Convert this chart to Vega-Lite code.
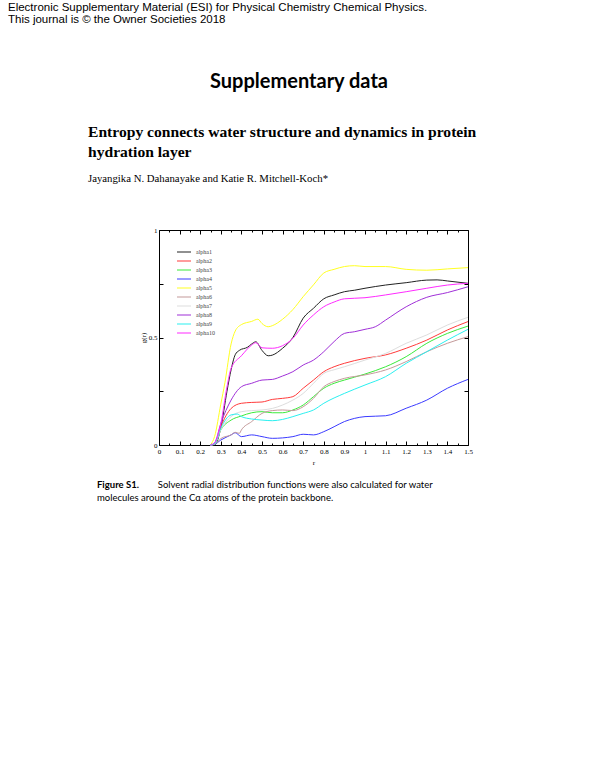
{
  "$schema": "https://vega.github.io/schema/vega-lite/v6.json",
  "background": "white",
  "padding": {"left": 8, "top": 1, "right": 0, "bottom": 0},
  "bounds": "flush",
  "spacing": 0,
  "datasets": {
    "rdf": [
      {"r": 0.25, "g": 0, "s": "alpha1"}, {"r": 0.27, "g": 0, "s": "alpha1"}, {"r": 0.3, "g": 0.08, "s": "alpha1"}, {"r": 0.33, "g": 0.25, "s": "alpha1"}, {"r": 0.35, "g": 0.35, "s": "alpha1"}, {"r": 0.37, "g": 0.42, "s": "alpha1"}, {"r": 0.39, "g": 0.44, "s": "alpha1"}, {"r": 0.43, "g": 0.455, "s": "alpha1"}, {"r": 0.45, "g": 0.47, "s": "alpha1"}, {"r": 0.47, "g": 0.48, "s": "alpha1"}, {"r": 0.5, "g": 0.44, "s": "alpha1"}, {"r": 0.53, "g": 0.415, "s": "alpha1"}, {"r": 0.55, "g": 0.418, "s": "alpha1"}, {"r": 0.6, "g": 0.45, "s": "alpha1"}, {"r": 0.65, "g": 0.5, "s": "alpha1"}, {"r": 0.7, "g": 0.59, "s": "alpha1"}, {"r": 0.75, "g": 0.636, "s": "alpha1"}, {"r": 0.8, "g": 0.68, "s": "alpha1"}, {"r": 0.85, "g": 0.698, "s": "alpha1"}, {"r": 0.9, "g": 0.713, "s": "alpha1"}, {"r": 0.95, "g": 0.72, "s": "alpha1"}, {"r": 1.0, "g": 0.729, "s": "alpha1"}, {"r": 1.1, "g": 0.744, "s": "alpha1"}, {"r": 1.2, "g": 0.755, "s": "alpha1"}, {"r": 1.3, "g": 0.767, "s": "alpha1"}, {"r": 1.35, "g": 0.768, "s": "alpha1"}, {"r": 1.4, "g": 0.763, "s": "alpha1"}, {"r": 1.5, "g": 0.752, "s": "alpha1"},
      {"r": 0.25, "g": 0, "s": "alpha2"}, {"r": 0.27, "g": 0.005, "s": "alpha2"}, {"r": 0.3, "g": 0.085, "s": "alpha2"}, {"r": 0.35, "g": 0.17, "s": "alpha2"}, {"r": 0.4, "g": 0.194, "s": "alpha2"}, {"r": 0.45, "g": 0.198, "s": "alpha2"}, {"r": 0.5, "g": 0.2, "s": "alpha2"}, {"r": 0.55, "g": 0.212, "s": "alpha2"}, {"r": 0.6, "g": 0.217, "s": "alpha2"}, {"r": 0.65, "g": 0.225, "s": "alpha2"}, {"r": 0.7, "g": 0.264, "s": "alpha2"}, {"r": 0.75, "g": 0.302, "s": "alpha2"}, {"r": 0.8, "g": 0.341, "s": "alpha2"}, {"r": 0.85, "g": 0.364, "s": "alpha2"}, {"r": 0.9, "g": 0.38, "s": "alpha2"}, {"r": 1.0, "g": 0.403, "s": "alpha2"}, {"r": 1.1, "g": 0.419, "s": "alpha2"}, {"r": 1.2, "g": 0.45, "s": "alpha2"}, {"r": 1.3, "g": 0.488, "s": "alpha2"}, {"r": 1.4, "g": 0.535, "s": "alpha2"}, {"r": 1.5, "g": 0.574, "s": "alpha2"},
      {"r": 0.25, "g": 0, "s": "alpha3"}, {"r": 0.27, "g": 0.005, "s": "alpha3"}, {"r": 0.3, "g": 0.07, "s": "alpha3"}, {"r": 0.35, "g": 0.116, "s": "alpha3"}, {"r": 0.4, "g": 0.135, "s": "alpha3"}, {"r": 0.45, "g": 0.15, "s": "alpha3"}, {"r": 0.5, "g": 0.155, "s": "alpha3"}, {"r": 0.55, "g": 0.15, "s": "alpha3"}, {"r": 0.6, "g": 0.15, "s": "alpha3"}, {"r": 0.65, "g": 0.163, "s": "alpha3"}, {"r": 0.7, "g": 0.186, "s": "alpha3"}, {"r": 0.75, "g": 0.225, "s": "alpha3"}, {"r": 0.8, "g": 0.264, "s": "alpha3"}, {"r": 0.85, "g": 0.287, "s": "alpha3"}, {"r": 0.9, "g": 0.302, "s": "alpha3"}, {"r": 1.0, "g": 0.33, "s": "alpha3"}, {"r": 1.1, "g": 0.364, "s": "alpha3"}, {"r": 1.2, "g": 0.411, "s": "alpha3"}, {"r": 1.3, "g": 0.473, "s": "alpha3"}, {"r": 1.4, "g": 0.519, "s": "alpha3"}, {"r": 1.5, "g": 0.553, "s": "alpha3"},
      {"r": 0.25, "g": 0, "s": "alpha4"}, {"r": 0.27, "g": 0.003, "s": "alpha4"}, {"r": 0.3, "g": 0.023, "s": "alpha4"}, {"r": 0.35, "g": 0.047, "s": "alpha4"}, {"r": 0.37, "g": 0.057, "s": "alpha4"}, {"r": 0.4, "g": 0.039, "s": "alpha4"}, {"r": 0.45, "g": 0.047, "s": "alpha4"}, {"r": 0.5, "g": 0.039, "s": "alpha4"}, {"r": 0.55, "g": 0.031, "s": "alpha4"}, {"r": 0.6, "g": 0.033, "s": "alpha4"}, {"r": 0.65, "g": 0.039, "s": "alpha4"}, {"r": 0.7, "g": 0.05, "s": "alpha4"}, {"r": 0.75, "g": 0.047, "s": "alpha4"}, {"r": 0.8, "g": 0.062, "s": "alpha4"}, {"r": 0.85, "g": 0.085, "s": "alpha4"}, {"r": 0.9, "g": 0.109, "s": "alpha4"}, {"r": 0.95, "g": 0.124, "s": "alpha4"}, {"r": 1.0, "g": 0.132, "s": "alpha4"}, {"r": 1.1, "g": 0.136, "s": "alpha4"}, {"r": 1.2, "g": 0.171, "s": "alpha4"}, {"r": 1.3, "g": 0.209, "s": "alpha4"}, {"r": 1.4, "g": 0.264, "s": "alpha4"}, {"r": 1.5, "g": 0.305, "s": "alpha4"},
      {"r": 0.25, "g": 0, "s": "alpha5"}, {"r": 0.27, "g": 0.04, "s": "alpha5"}, {"r": 0.3, "g": 0.19, "s": "alpha5"}, {"r": 0.32, "g": 0.29, "s": "alpha5"}, {"r": 0.35, "g": 0.47, "s": "alpha5"}, {"r": 0.37, "g": 0.53, "s": "alpha5"}, {"r": 0.4, "g": 0.56, "s": "alpha5"}, {"r": 0.45, "g": 0.575, "s": "alpha5"}, {"r": 0.48, "g": 0.585, "s": "alpha5"}, {"r": 0.5, "g": 0.565, "s": "alpha5"}, {"r": 0.53, "g": 0.55, "s": "alpha5"}, {"r": 0.55, "g": 0.555, "s": "alpha5"}, {"r": 0.6, "g": 0.585, "s": "alpha5"}, {"r": 0.65, "g": 0.63, "s": "alpha5"}, {"r": 0.7, "g": 0.69, "s": "alpha5"}, {"r": 0.75, "g": 0.745, "s": "alpha5"}, {"r": 0.8, "g": 0.8, "s": "alpha5"}, {"r": 0.85, "g": 0.817, "s": "alpha5"}, {"r": 0.9, "g": 0.83, "s": "alpha5"}, {"r": 0.95, "g": 0.834, "s": "alpha5"}, {"r": 1.0, "g": 0.83, "s": "alpha5"}, {"r": 1.1, "g": 0.83, "s": "alpha5"}, {"r": 1.2, "g": 0.817, "s": "alpha5"}, {"r": 1.3, "g": 0.813, "s": "alpha5"}, {"r": 1.4, "g": 0.819, "s": "alpha5"}, {"r": 1.5, "g": 0.825, "s": "alpha5"},
      {"r": 0.25, "g": 0, "s": "alpha6"}, {"r": 0.27, "g": 0.003, "s": "alpha6"}, {"r": 0.3, "g": 0.03, "s": "alpha6"}, {"r": 0.35, "g": 0.047, "s": "alpha6"}, {"r": 0.37, "g": 0.059, "s": "alpha6"}, {"r": 0.39, "g": 0.054, "s": "alpha6"}, {"r": 0.4, "g": 0.07, "s": "alpha6"}, {"r": 0.45, "g": 0.109, "s": "alpha6"}, {"r": 0.5, "g": 0.147, "s": "alpha6"}, {"r": 0.55, "g": 0.16, "s": "alpha6"}, {"r": 0.6, "g": 0.163, "s": "alpha6"}, {"r": 0.65, "g": 0.16, "s": "alpha6"}, {"r": 0.7, "g": 0.178, "s": "alpha6"}, {"r": 0.75, "g": 0.217, "s": "alpha6"}, {"r": 0.8, "g": 0.271, "s": "alpha6"}, {"r": 0.85, "g": 0.295, "s": "alpha6"}, {"r": 0.9, "g": 0.31, "s": "alpha6"}, {"r": 1.0, "g": 0.326, "s": "alpha6"}, {"r": 1.1, "g": 0.349, "s": "alpha6"}, {"r": 1.2, "g": 0.388, "s": "alpha6"}, {"r": 1.3, "g": 0.434, "s": "alpha6"}, {"r": 1.4, "g": 0.473, "s": "alpha6"}, {"r": 1.5, "g": 0.504, "s": "alpha6"},
      {"r": 0.25, "g": 0, "s": "alpha7"}, {"r": 0.27, "g": 0.005, "s": "alpha7"}, {"r": 0.3, "g": 0.07, "s": "alpha7"}, {"r": 0.35, "g": 0.132, "s": "alpha7"}, {"r": 0.4, "g": 0.155, "s": "alpha7"}, {"r": 0.45, "g": 0.16, "s": "alpha7"}, {"r": 0.5, "g": 0.163, "s": "alpha7"}, {"r": 0.55, "g": 0.17, "s": "alpha7"}, {"r": 0.6, "g": 0.186, "s": "alpha7"}, {"r": 0.65, "g": 0.209, "s": "alpha7"}, {"r": 0.7, "g": 0.24, "s": "alpha7"}, {"r": 0.75, "g": 0.287, "s": "alpha7"}, {"r": 0.8, "g": 0.333, "s": "alpha7"}, {"r": 0.85, "g": 0.35, "s": "alpha7"}, {"r": 0.9, "g": 0.364, "s": "alpha7"}, {"r": 1.0, "g": 0.395, "s": "alpha7"}, {"r": 1.1, "g": 0.426, "s": "alpha7"}, {"r": 1.2, "g": 0.473, "s": "alpha7"}, {"r": 1.3, "g": 0.512, "s": "alpha7"}, {"r": 1.4, "g": 0.558, "s": "alpha7"}, {"r": 1.5, "g": 0.594, "s": "alpha7"},
      {"r": 0.25, "g": 0, "s": "alpha8"}, {"r": 0.27, "g": 0.01, "s": "alpha8"}, {"r": 0.3, "g": 0.1, "s": "alpha8"}, {"r": 0.35, "g": 0.209, "s": "alpha8"}, {"r": 0.4, "g": 0.271, "s": "alpha8"}, {"r": 0.45, "g": 0.287, "s": "alpha8"}, {"r": 0.5, "g": 0.302, "s": "alpha8"}, {"r": 0.55, "g": 0.305, "s": "alpha8"}, {"r": 0.6, "g": 0.321, "s": "alpha8"}, {"r": 0.65, "g": 0.341, "s": "alpha8"}, {"r": 0.7, "g": 0.372, "s": "alpha8"}, {"r": 0.75, "g": 0.395, "s": "alpha8"}, {"r": 0.8, "g": 0.434, "s": "alpha8"}, {"r": 0.85, "g": 0.481, "s": "alpha8"}, {"r": 0.9, "g": 0.519, "s": "alpha8"}, {"r": 0.95, "g": 0.527, "s": "alpha8"}, {"r": 1.0, "g": 0.538, "s": "alpha8"}, {"r": 1.05, "g": 0.55, "s": "alpha8"}, {"r": 1.1, "g": 0.581, "s": "alpha8"}, {"r": 1.2, "g": 0.643, "s": "alpha8"}, {"r": 1.3, "g": 0.687, "s": "alpha8"}, {"r": 1.4, "g": 0.709, "s": "alpha8"}, {"r": 1.5, "g": 0.736, "s": "alpha8"},
      {"r": 0.25, "g": 0, "s": "alpha9"}, {"r": 0.27, "g": 0.005, "s": "alpha9"}, {"r": 0.3, "g": 0.078, "s": "alpha9"}, {"r": 0.35, "g": 0.14, "s": "alpha9"}, {"r": 0.38, "g": 0.144, "s": "alpha9"}, {"r": 0.4, "g": 0.132, "s": "alpha9"}, {"r": 0.45, "g": 0.121, "s": "alpha9"}, {"r": 0.5, "g": 0.116, "s": "alpha9"}, {"r": 0.55, "g": 0.113, "s": "alpha9"}, {"r": 0.6, "g": 0.119, "s": "alpha9"}, {"r": 0.65, "g": 0.132, "s": "alpha9"}, {"r": 0.7, "g": 0.147, "s": "alpha9"}, {"r": 0.75, "g": 0.163, "s": "alpha9"}, {"r": 0.8, "g": 0.194, "s": "alpha9"}, {"r": 0.9, "g": 0.24, "s": "alpha9"}, {"r": 1.0, "g": 0.279, "s": "alpha9"}, {"r": 1.1, "g": 0.318, "s": "alpha9"}, {"r": 1.2, "g": 0.38, "s": "alpha9"}, {"r": 1.3, "g": 0.434, "s": "alpha9"}, {"r": 1.4, "g": 0.488, "s": "alpha9"}, {"r": 1.5, "g": 0.538, "s": "alpha9"},
      {"r": 0.25, "g": 0, "s": "alpha10"}, {"r": 0.27, "g": 0.01, "s": "alpha10"}, {"r": 0.3, "g": 0.1, "s": "alpha10"}, {"r": 0.33, "g": 0.27, "s": "alpha10"}, {"r": 0.35, "g": 0.357, "s": "alpha10"}, {"r": 0.4, "g": 0.415, "s": "alpha10"}, {"r": 0.45, "g": 0.465, "s": "alpha10"}, {"r": 0.47, "g": 0.476, "s": "alpha10"}, {"r": 0.5, "g": 0.452, "s": "alpha10"}, {"r": 0.55, "g": 0.45, "s": "alpha10"}, {"r": 0.6, "g": 0.462, "s": "alpha10"}, {"r": 0.65, "g": 0.496, "s": "alpha10"}, {"r": 0.7, "g": 0.558, "s": "alpha10"}, {"r": 0.75, "g": 0.605, "s": "alpha10"}, {"r": 0.8, "g": 0.643, "s": "alpha10"}, {"r": 0.85, "g": 0.665, "s": "alpha10"}, {"r": 0.9, "g": 0.68, "s": "alpha10"}, {"r": 1.0, "g": 0.685, "s": "alpha10"}, {"r": 1.1, "g": 0.698, "s": "alpha10"}, {"r": 1.2, "g": 0.713, "s": "alpha10"}, {"r": 1.3, "g": 0.729, "s": "alpha10"}, {"r": 1.4, "g": 0.744, "s": "alpha10"}, {"r": 1.5, "g": 0.752, "s": "alpha10"}
    ]
  },
  "vconcat": [
    {
      "width": 309,
      "height": 74,
      "data": {"values": []},
      "mark": "point",
      "title": {
        "text": ["Electronic Supplementary Material (ESI) for Physical Chemistry Chemical Physics.", "This journal is © the Owner Societies 2018"],
        "anchor": "start",
        "frame": "group",
        "dx": -151,
        "offset": 0,
        "font": "Liberation Sans",
        "fontSize": 11.5,
        "fontWeight": "normal",
        "lineHeight": 12,
        "baseline": "alphabetic",
        "color": "black"
      }
    },
    {
      "width": 309,
      "height": 88,
      "data": {"values": []},
      "mark": "point",
      "title": {
        "text": "Supplementary data",
        "anchor": "middle",
        "frame": "group",
        "dx": -14.5,
        "offset": 0,
        "font": "Lato",
        "fontSize": 20,
        "fontWeight": "bold",
        "baseline": "alphabetic",
        "color": "black"
      }
    },
    {
      "width": 309,
      "height": 34,
      "data": {"values": []},
      "mark": "point",
      "title": {
        "text": ["Entropy connects water structure and dynamics in protein", "hydration layer"],
        "subtitle": "Jayangika N. Dahanayake and Katie R. Mitchell-Koch*",
        "anchor": "start",
        "frame": "group",
        "dx": -71,
        "offset": 0,
        "font": "Liberation Serif",
        "fontSize": 15.6,
        "fontWeight": "bold",
        "lineHeight": 20,
        "baseline": "alphabetic",
        "color": "black",
        "subtitleFont": "Liberation Serif",
        "subtitleFontSize": 10.75,
        "subtitleColor": "black",
        "subtitlePadding": 10
      }
    },
    {
      "width": 309,
      "height": 215,
      "data": {"name": "rdf"},
      "title": {
        "text": "Figure S1.",
        "subtitle": ["\u200b\u00a0\u00a0\u00a0\u00a0\u00a0\u00a0\u00a0\u00a0\u00a0\u00a0\u00a0\u00a0\u00a0\u00a0\u00a0\u00a0\u00a0\u00a0\u00a0\u00a0\u00a0\u00a0\u00a0\u00a0\u00a0Solvent radial distribution functions were also calculated for water", "molecules around the Cα atoms of the protein backbone."],
        "orient": "bottom",
        "anchor": "start",
        "frame": "group",
        "dx": -62,
        "offset": 23,
        "font": "Lato",
        "fontSize": 9.5,
        "fontWeight": "bold",
        "baseline": "alphabetic",
        "color": "black",
        "subtitleFont": "Lato",
        "subtitleFontSize": 9.5,
        "subtitleColor": "black",
        "subtitleLineHeight": 13.4,
        "subtitlePadding": -9.5
      },
      "layer": [
        {
          "mark": {"type": "line", "strokeWidth": 1, "interpolate": "monotone"},
          "encoding": {
            "x": {
              "field": "r",
              "type": "quantitative",
              "title": "r",
              "scale": {"domain": [0, 1.5], "nice": false},
              "axis": {
                "orient": "bottom",
                "values": [0, 0.05, 0.1, 0.15, 0.2, 0.25, 0.3, 0.35, 0.4, 0.45, 0.5, 0.55, 0.6, 0.65, 0.7, 0.75, 0.8, 0.85, 0.9, 0.95, 1, 1.05, 1.1, 1.15, 1.2, 1.25, 1.3, 1.35, 1.4, 1.45, 1.5],
                "format": "~g",
                "labelExpr": "round(datum.value * 20) % 2 == 0 ? datum.label : ''",
                "labelOverlap": false,
                "labelFlush": false,
                "tickSize": {"condition": {"test": "round(datum.value * 20) % 2 == 1", "value": -2}, "value": -4},
                "labelPadding": 6
              }
            },
            "y": {
              "field": "g",
              "type": "quantitative",
              "title": "g(r)",
              "scale": {"domain": [0, 1], "nice": false},
              "axis": {
                "orient": "left",
                "values": [0, 0.25, 0.5, 0.75, 1],
                "format": "~g",
                "labelExpr": "datum.value == 0.25 || datum.value == 0.75 ? '' : datum.label",
                "labelOverlap": false,
                "labelFlush": false,
                "tickSize": -4,
                "labelPadding": 6
              }
            },
            "color": {
              "field": "s",
              "type": "nominal",
              "scale": {
                "domain": ["alpha1", "alpha2", "alpha3", "alpha4", "alpha5", "alpha6", "alpha7", "alpha8", "alpha9", "alpha10"],
                "range": ["#222222", "#ff3b3b", "#3bea3b", "#3b3bff", "#ffff22", "#c49a9a", "#dddddd", "#a030d8", "#2af0f0", "#ff2aff"]
              },
              "legend": {
                "orient": "none",
                "legendX": 17,
                "legendY": 213.7,
                "title": null,
                "symbolType": "stroke",
                "symbolSize": 196,
                "symbolStrokeWidth": 1.2,
                "labelFont": "Liberation Serif",
                "labelFontSize": 6,
                "labelColor": "#444444",
                "clipHeight": 8.6,
                "rowPadding": 0,
                "padding": 0
              }
            }
          }
        },
        {
          "mark": {"type": "point", "opacity": 0},
          "encoding": {
            "x": {
              "field": "r",
              "type": "quantitative",
              "axis": {
                "orient": "top",
                "title": null,
                "labels": false,
                "values": [0, 0.05, 0.1, 0.15, 0.2, 0.25, 0.3, 0.35, 0.4, 0.45, 0.5, 0.55, 0.6, 0.65, 0.7, 0.75, 0.8, 0.85, 0.9, 0.95, 1, 1.05, 1.1, 1.15, 1.2, 1.25, 1.3, 1.35, 1.4, 1.45, 1.5],
                "tickSize": {"condition": {"test": "round(datum.value * 20) % 2 == 1", "value": -2}, "value": -4}
              }
            },
            "y": {
              "field": "g",
              "type": "quantitative",
              "axis": {
                "orient": "right",
                "title": null,
                "labels": false,
                "values": [0, 0.25, 0.5, 0.75, 1],
                "tickSize": -4
              }
            }
          }
        }
      ],
      "resolve": {"axis": {"x": "independent", "y": "independent"}}
    }
  ],
  "config": {
    "view": {"stroke": null},
    "axis": {
      "grid": false,
      "domainColor": "black",
      "tickColor": "black",
      "labelFont": "Liberation Serif",
      "labelFontSize": 7,
      "labelColor": "black",
      "titleFont": "Liberation Serif",
      "titleFontSize": 7,
      "titleFontWeight": "normal",
      "titleColor": "black",
      "titlePadding": 2
    }
  }
}
